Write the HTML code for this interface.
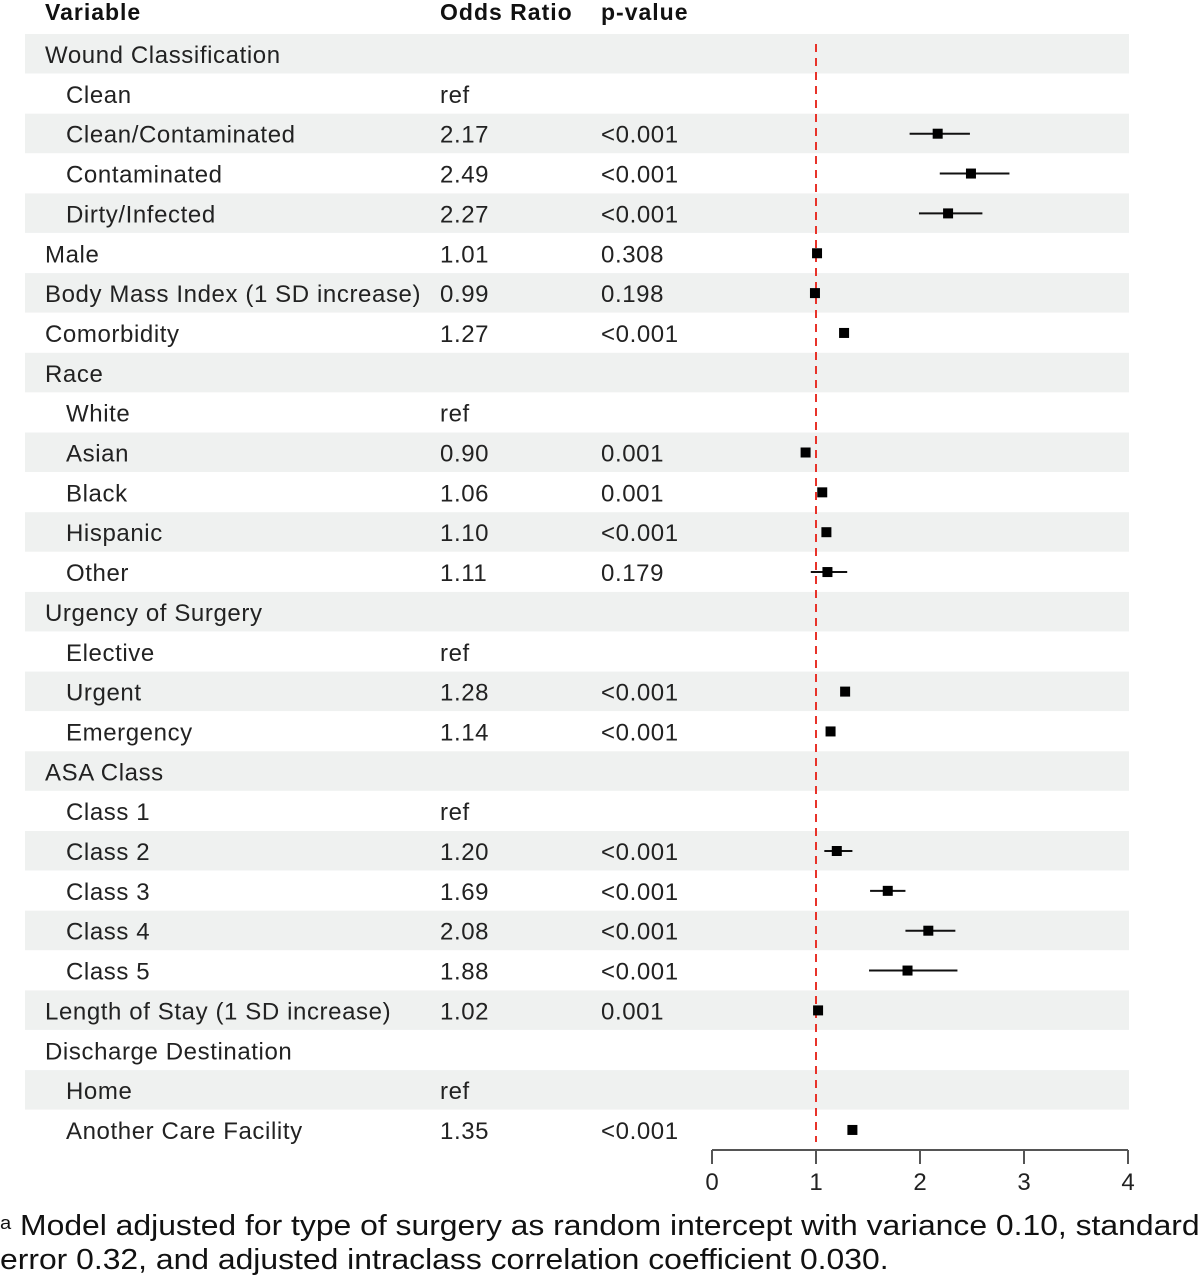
<!DOCTYPE html>
<html><head><meta charset="utf-8">
<style>
html,body{margin:0;padding:0;background:#fff;width:1200px;height:1282px;overflow:hidden}
svg{display:block;font-family:"Liberation Sans",Arial,sans-serif}
.foot{position:absolute;left:0;top:1206px;font-family:"Liberation Sans",Arial,sans-serif;font-size:28.5px;line-height:34px;color:#111;white-space:nowrap;transform:scaleX(1.118);transform-origin:0 0}
</style></head>
<body>
<svg id="chart" width="1200" height="1282">
<g id="bands"></g><g id="text"></g><g id="marks"></g><g id="axis"></g>
</svg>
<div class="foot"><span style="font-size:18px;vertical-align:6px">a</span> Model adjusted for type of surgery as random intercept with variance 0.10, standard<br>error 0.32, and adjusted intraclass correlation coefficient 0.030.</div>
<script>
const labels=["Wound Classification","Clean","Clean/Contaminated","Contaminated","Dirty/Infected","Male","Body Mass Index (1 SD increase)","Comorbidity","Race","White","Asian","Black","Hispanic","Other","Urgency of Surgery","Elective","Urgent","Emergency","ASA Class","Class 1","Class 2","Class 3","Class 4","Class 5","Length of Stay (1 SD increase)","Discharge Destination","Home","Another Care Facility"];
const indent=[0,1,1,1,1,0,0,0,0,1,1,1,1,1,0,1,1,1,0,1,1,1,1,1,0,0,1,1];
const orText=["","ref","2.17","2.49","2.27","1.01","0.99","1.27","","ref","0.90","1.06","1.10","1.11","","ref","1.28","1.14","","ref","1.20","1.69","2.08","1.88","1.02","","ref","1.35"];
const pText=["","","<0.001","<0.001","<0.001","0.308","0.198","<0.001","","","0.001","0.001","<0.001","0.179","","","<0.001","<0.001","","","<0.001","<0.001","<0.001","<0.001","0.001","","","<0.001"];
const est=[null,null,2.17,2.49,2.27,1.01,0.99,1.27,null,null,0.90,1.06,1.10,1.11,null,null,1.28,1.14,null,null,1.20,1.69,2.08,1.88,1.02,null,null,1.35];
const lo=[null,null,1.90,2.19,1.99,0.99,0.97,1.24,null,null,0.86,1.03,1.06,0.95,null,null,1.25,1.11,null,null,1.08,1.52,1.86,1.51,0.99,null,null,1.31];
const hi=[null,null,2.48,2.86,2.60,1.03,1.01,1.30,null,null,0.94,1.09,1.14,1.30,null,null,1.31,1.17,null,null,1.35,1.86,2.34,2.36,1.05,null,null,1.39];
const ticks=[0,1,2,3,4];
const NS="http://www.w3.org/2000/svg";
const x=v=>712+v*104;
const y=i=>54+i*39.85;
function mk(tag,attrs,parent){const e=document.createElementNS(NS,tag);for(const k in attrs)e.setAttribute(k,attrs[k]);document.getElementById(parent).appendChild(e);return e;}
const hdr=[["Variable",45],["Odds Ratio",440],["p-value",601]];
hdr.forEach(h=>{const t=mk("text",{x:h[1],y:20,"font-size":23,"font-weight":"bold",fill:"#111","letter-spacing":"1"},"text");t.textContent=h[0];

});
labels.forEach((l,i)=>{
 if(i%2===0){const r=mk("rect",{x:25,y:y(i)-20,width:1104,height:39.5,fill:"#eff1f0"},"bands");
 
 }
 const t=mk("text",{x:indent[i]?66:45,y:y(i)+9,"font-size":24,fill:"#222","letter-spacing":"0.6"},"text");t.textContent=l;
 
 
 if(orText[i]){const o=mk("text",{x:440,y:y(i)+9,"font-size":24,fill:"#222","letter-spacing":"0.6"},"text");o.textContent=orText[i];
 
 }
 if(pText[i]){const p=mk("text",{x:601,y:y(i)+9,"font-size":24,fill:"#222","letter-spacing":"0.6"},"text");p.textContent=pText[i];
 
 }
});
const ref=mk("line",{x1:x(1),x2:x(1),y1:44,y2:1142,stroke:"#e8332a","stroke-width":2,"stroke-dasharray":"8,6"},"marks");


est.forEach((e,i)=>{
 if(e===null)return;
 const l=mk("line",{x1:x(lo[i]),x2:x(hi[i]),y1:y(i),y2:y(i),stroke:"#111","stroke-width":2},"marks");
 
 
 const s=mk("rect",{x:x(e)-5,y:y(i)-5,width:10,height:10,fill:"#000"},"marks");
 
 
});
const ax=mk("line",{x1:x(0),x2:x(4),y1:1150,y2:1150,stroke:"#555","stroke-width":2},"axis");


ticks.forEach(v=>{
 const tk=mk("line",{x1:x(v),x2:x(v),y1:1150,y2:1164,stroke:"#555","stroke-width":2},"axis");
 
 
 const t=mk("text",{x:x(v),y:1190,"font-size":24,"text-anchor":"middle",fill:"#222"},"axis");t.textContent=v;
 
 
});
</script>
</body></html>
